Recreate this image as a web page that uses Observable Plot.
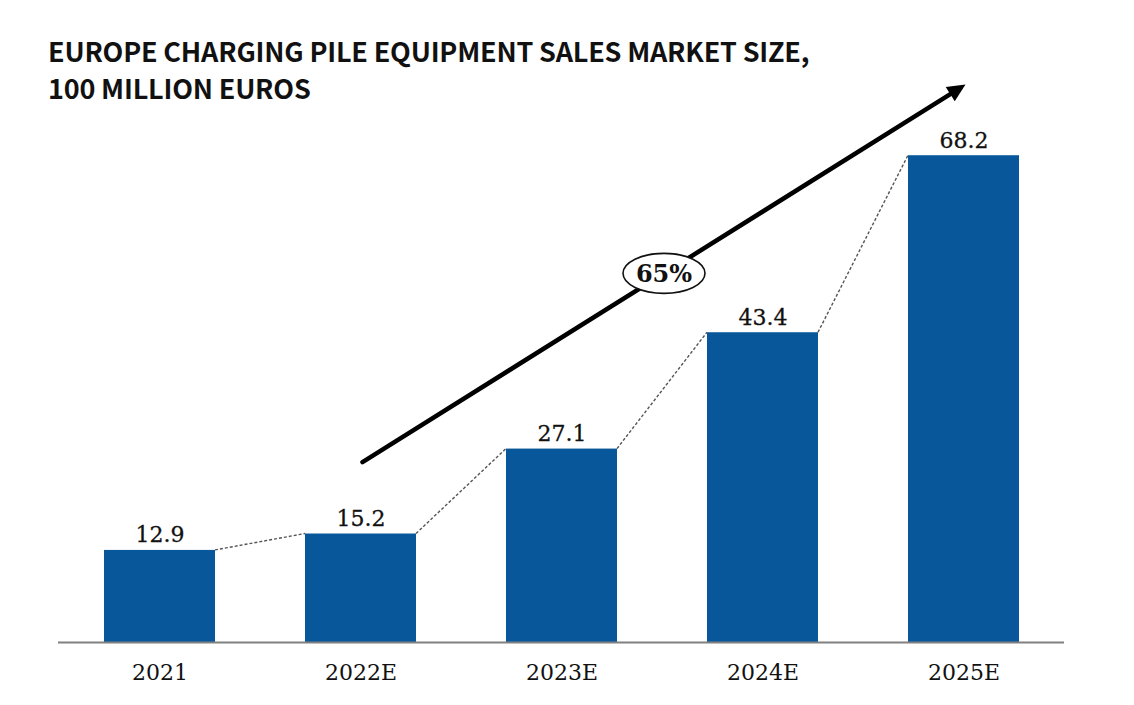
<!DOCTYPE html>
<html><head><meta charset="utf-8">
<script src="https://cdn.jsdelivr.net/npm/d3@7"></script>
<script src="https://cdn.jsdelivr.net/npm/@observablehq/plot@0.6"></script>
<style>
html,body{margin:0;padding:0;background:#fff;}
#wrap{position:relative;width:1134px;height:705px;}
#title{position:absolute;left:48px;top:32px;font-family:"Noto Sans CJK SC","Noto Sans",sans-serif;font-weight:700;font-size:27px;letter-spacing:-0.2px;line-height:37px;color:#111;white-space:nowrap;z-index:2;}
#wrap svg{position:absolute;left:0;top:0;}
</style></head><body>
<div id="wrap"><div id="title">EUROPE CHARGING PILE EQUIPMENT SALES MARKET SIZE,<br>100 MILLION EUROS</div></div>
<script>
// Data
const years = ["2021", "2022E", "2023E", "2024E", "2025E"];
const sales = [12.9, 15.2, 27.1, 43.4, 68.2];
// Trend arrow annotation (category, value) endpoints and label
const trendStart = ["2022E", 25.2];
const trendEnd = ["2025E", 78.1];
const trendLabel = "65%";

const rows = years.map((year, i) => ({year, value: sales[i]}));
const barColor = "#07579a";
const serif = "'DejaVu Serif', 'Liberation Serif', serif";

function annotations(index, scales) {
  const {x, y} = scales;
  let bw = typeof x.bandwidth === "function" ? x.bandwidth() : x.bandwidth;
  if (bw == null || isNaN(bw)) bw = (x(years[1]) - x(years[0])) * 0.55;
  const g = d3.create("svg:g");
  // dotted connectors between bar tops
  for (let i = 0; i < rows.length - 1; i++) {
    g.append("line")
      .attr("x1", x(rows[i].year) + bw).attr("y1", y(rows[i].value))
      .attr("x2", x(rows[i + 1].year)).attr("y2", y(rows[i + 1].value))
      .attr("stroke", "#555").attr("stroke-width", 1.4)
      .attr("stroke-dasharray", "3,2");
  }
  // trend arrow
  const x1 = x(trendStart[0]) + bw / 2 + 2, y1 = y(trendStart[1]);
  const x2 = x(trendEnd[0]) + bw / 2 + 2, y2 = y(trendEnd[1]);
  const len = Math.hypot(x2 - x1, y2 - y1);
  const ux = (x2 - x1) / len, uy = (y2 - y1) / len;
  const hl = 18, hw = 8.5;
  const bx = x2 - ux * hl, by = y2 - uy * hl;
  g.append("line")
    .attr("x1", x1).attr("y1", y1).attr("x2", bx + ux * 2).attr("y2", by + uy * 2)
    .attr("stroke", "#000").attr("stroke-width", 4.5).attr("stroke-linecap", "round");
  g.append("path")
    .attr("d", `M${x2},${y2}L${bx - uy * hw},${by + ux * hw}L${bx + uy * hw},${by - ux * hw}Z`)
    .attr("fill", "#000");
  // ellipse label at midpoint
  const mx = (x1 + x2) / 2, my = (y1 + y2) / 2;
  g.append("ellipse").attr("cx", mx).attr("cy", my).attr("rx", 41).attr("ry", 20)
    .attr("fill", "#fff").attr("stroke", "#111").attr("stroke-width", 1.6);
  g.append("text").attr("x", mx).attr("y", my).attr("dy", "0.36em")
    .attr("text-anchor", "middle").attr("font-family", serif)
    .attr("font-weight", "bold").attr("font-size", 24).attr("fill", "#111")
    .text(trendLabel);
  return g.node();
}

const chart = Plot.plot({
  width: 1134,
  height: 705,
  marginLeft: 58,
  marginRight: 70,
  marginTop: 71,
  marginBottom: 63,
  style: {background: "transparent", overflow: "visible"},
  x: {domain: years, paddingInner: 0.45, paddingOuter: 0.225, axis: null},
  y: {domain: [0, 80], axis: null},
  marks: [
    Plot.barY(rows, {x: "year", y: "value", fill: barColor}),
    Plot.ruleY([0], {stroke: "#808080", strokeWidth: 2}),
    Plot.axisX({tickSize: 0, tickPadding: 22, fontSize: 22, fontFamily: serif, color: "#111", label: null, stroke: "#111", strokeWidth: 0.3}),
    Plot.text(rows, {x: "year", y: "value", text: d => d.value.toFixed(1), dy: -15, fontSize: 22, fontFamily: serif, fill: "#111", stroke: "#111", strokeWidth: 0.3}),
    annotations
  ]
});
document.getElementById("wrap").appendChild(chart);
</script>
</body></html>
